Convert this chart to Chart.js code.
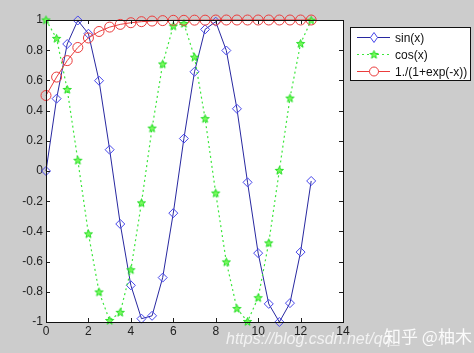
<!DOCTYPE html>
<html>
<head>
<meta charset="utf-8">
<script src="https://cdn.jsdelivr.net/npm/chart.js@4/dist/chart.umd.min.js"></script>
<style>
  html, body { margin: 0; padding: 0; background: #cccccc; }
  canvas { display: block; }
</style>
</head>
<body>
<canvas id="myChart" width="474" height="353"></canvas>
<script>
// x = 0:0.5:12.5
const xValues = [0, 0.5, 1, 1.5, 2, 2.5, 3, 3.5, 4, 4.5, 5, 5.5, 6, 6.5, 7, 7.5, 8, 8.5, 9, 9.5, 10, 10.5, 11, 11.5, 12, 12.5];
const sinValues = [0, 0.479, 0.841, 0.997, 0.909, 0.598, 0.141, -0.351, -0.757, -0.978, -0.959, -0.706, -0.279,
  0.215, 0.657, 0.938, 0.989, 0.798, 0.412, -0.075, -0.544, -0.880, -1.0, -0.875, -0.537, -0.066];
const cosValues = [1, 0.878, 0.540, 0.071, -0.416, -0.801, -0.990, -0.936, -0.654, -0.211, 0.284, 0.709, 0.960,
  0.977, 0.754, 0.347, -0.146, -0.602, -0.911, -0.997, -0.839, -0.476, 0.004, 0.483, 0.844, 0.998];
const sigValues = [0.5, 0.622, 0.731, 0.818, 0.881, 0.924, 0.953, 0.971, 0.982, 0.989, 0.993, 0.996, 0.998,
  0.998, 0.999, 0.999, 1.0, 1.0, 1.0, 1.0, 1.0, 1.0, 1.0, 1.0, 1.0, 1.0];
const seriesNames = ['sin(x)', 'cos(x)', '1./(1+exp(-x))'];
const xTicks = [0, 2, 4, 6, 8, 10, 12, 14];

const pts = ys => xValues.map((x, i) => ({ x: x, y: ys[i] }));

// pentagram marker (matlab 'p')
function makeStar() {
  const c = document.createElement('canvas');
  c.width = 11; c.height = 11;
  const g = c.getContext('2d');
  g.beginPath();
  for (let i = 0; i < 10; i++) {
    const r = i % 2 ? 1.8 : 4.3;
    const a = -Math.PI / 2 + i * Math.PI / 5;
    const px = 5.5 + r * Math.cos(a), py = 5.8 + r * Math.sin(a);
    i ? g.lineTo(px, py) : g.moveTo(px, py);
  }
  g.closePath();
  g.fillStyle = 'rgba(110,250,80,0.9)';
  g.fill();
  g.strokeStyle = '#22dd22';
  g.lineWidth = 1;
  g.stroke();
  return c;
}
const starImg = makeStar();

const BLUE_LINE = 'rgb(40,40,160)';
const BLUE_MK = 'rgb(70,70,235)';
const GREEN = 'rgb(60,230,60)';
const RED = 'rgb(235,60,60)';

// white axes area + matlab box with inward ticks + legend + watermark
const matlabAxes = {
  id: 'matlabAxes',
  beforeDatasetsDraw(chart) {
    const { ctx, chartArea: a } = chart;
    ctx.save();
    ctx.fillStyle = '#ffffff';
    ctx.fillRect(a.left, a.top, a.right - a.left, a.bottom - a.top);
    ctx.restore();
  },
  afterDatasetsDraw(chart) {
    const { ctx, chartArea: a, scales } = chart;
    ctx.save();
    ctx.strokeStyle = '#222';
    ctx.lineWidth = 1;
    ctx.beginPath();
    scales.x.ticks.forEach(t => {
      const px = Math.round(scales.x.getPixelForValue(t.value)) + 0.5;
      ctx.moveTo(px, a.bottom); ctx.lineTo(px, a.bottom - 4);
      ctx.moveTo(px, a.top); ctx.lineTo(px, a.top + 4);
    });
    scales.y.ticks.forEach(t => {
      const py = Math.round(scales.y.getPixelForValue(t.value)) + 0.5;
      ctx.moveTo(a.left, py); ctx.lineTo(a.left + 4, py);
      ctx.moveTo(a.right, py); ctx.lineTo(a.right - 4, py);
    });
    ctx.stroke();
    ctx.strokeStyle = '#111';
    ctx.strokeRect(Math.round(a.left) + 0.5, Math.round(a.top) + 0.5,
      Math.round(a.right - a.left), Math.round(a.bottom - a.top));
    ctx.restore();
  },
  afterDraw(chart) {
    const { ctx } = chart;
    ctx.save();
    // legend
    const bx = 350.5, by = 27.5, bw = 120, bh = 53;
    ctx.fillStyle = '#fff';
    ctx.fillRect(bx, by, bw, bh);
    ctx.strokeStyle = '#111';
    ctx.lineWidth = 1;
    ctx.strokeRect(bx, by, bw, bh);
    const rows = [37, 54, 71];
    ctx.font = '12px "Liberation Sans", Arial, sans-serif';
    ctx.textBaseline = 'middle';
    chart.data.datasets.forEach((ds, i) => {
      const y = rows[i] + 0.5;
      ctx.strokeStyle = i === 0 ? BLUE_LINE : ds.borderColor;
      ctx.setLineDash(i === 1 ? [2, 3] : []);
      ctx.beginPath();
      ctx.moveTo(357, y); ctx.lineTo(390, y);
      ctx.stroke();
      ctx.setLineDash([]);
      if (i === 0) {
        ctx.strokeStyle = BLUE_MK;
        ctx.beginPath();
        ctx.moveTo(374, y - 5); ctx.lineTo(377.5, y); ctx.lineTo(374, y + 5); ctx.lineTo(370.5, y); ctx.closePath();
        ctx.fillStyle = '#fff'; ctx.fill();
        ctx.stroke();
      } else if (i === 1) {
        ctx.drawImage(starImg, 374 - 5.5, y - 5.5);
      } else {
        ctx.strokeStyle = RED;
        ctx.beginPath();
        ctx.arc(374, y, 4.5, 0, Math.PI * 2);
        ctx.fillStyle = '#fff'; ctx.fill();
        ctx.stroke();
      }
      ctx.fillStyle = '#111';
      ctx.fillText(ds.label, 395, y + 1);
    });
    // watermark
    ctx.fillStyle = 'rgba(255,255,255,0.75)';
    ctx.textBaseline = 'alphabetic';
    ctx.font = 'italic 16px "Liberation Sans", Arial, sans-serif';
    ctx.fillText('https://blog.csdn.net/qq_', 226, 344);
    ctx.fillStyle = 'rgba(255,255,255,0.9)';
    ctx.font = '17px "Noto Sans CJK SC", sans-serif';
    ctx.fillText('知乎 @柚木', 384, 343);
    ctx.restore();
  }
};

const ctx = document.getElementById('myChart').getContext('2d');
const config = {
  type: 'line',
  data: {
    datasets: [{
      label: seriesNames[0],
      data: pts(sinValues),
      borderColor: BLUE_LINE,
      borderWidth: 1,
      pointStyle: 'rectRot',
      pointRadius: 4.5,
      pointBorderColor: BLUE_MK,
      pointBackgroundColor: 'rgba(0,0,0,0)',
      pointBorderWidth: 1,
      order: 3,
      clip: false
    }, {
      label: seriesNames[1],
      data: pts(cosValues),
      borderColor: GREEN,
      borderWidth: 1.2,
      borderDash: [2, 3],
      pointStyle: starImg,
      order: 2,
      clip: false
    }, {
      label: seriesNames[2],
      data: pts(sigValues),
      borderColor: RED,
      borderWidth: 1,
      pointStyle: 'circle',
      pointRadius: 5,
      pointBorderColor: RED,
      pointBackgroundColor: 'rgba(0,0,0,0)',
      pointBorderWidth: 1,
      order: 1,
      clip: false
    }]
  },
  options: {
    responsive: false,
    animation: false,
    layout: { padding: { left: 0, top: 20, right: 131, bottom: 0 } },
    plugins: {
      legend: { display: false },
      tooltip: { enabled: false }
    },
    scales: {
      x: {
        type: 'linear',
        min: 0,
        max: 14,
        afterBuildTicks: s => { s.ticks = xTicks.map(v => ({ value: v })); },
        afterFit: s => { s.height = 31; },
        grid: { display: false, drawTicks: false },
        border: { display: false },
        ticks: {
          padding: 2,
          color: '#222',
          font: { family: '"Liberation Sans", Arial, sans-serif', size: 12 },
          maxRotation: 0
        }
      },
      y: {
        min: -1,
        max: 1,
        afterFit: s => { s.width = 46; },
        grid: { display: false, drawTicks: false },
        border: { display: false },
        ticks: {
          stepSize: 0.2,
          padding: 3,
          color: '#222',
          font: { family: '"Liberation Sans", Arial, sans-serif', size: 12 },
          callback: v => String(+v.toFixed(1) || 0)
        }
      }
    }
  },
  plugins: [matlabAxes]
};

// DRAW CHART
var myChart = new Chart(ctx, config);
</script>
</body>
</html>
